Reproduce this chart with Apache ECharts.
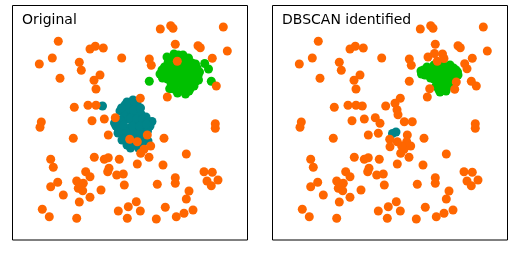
<!DOCTYPE html>
<html><head><meta charset="utf-8">
<script src="https://cdn.jsdelivr.net/npm/echarts@6/dist/echarts.min.js"></script>
<style>html,body{margin:0;padding:0;background:#fff}#c{width:521px;height:255px}</style>
</head><body><div id="c"></div>
<script>
// Panel titles
const titles = ['Original', 'DBSCAN identified'];

// Points labelled as noise / background (orange in both panels)
const noisePts = [
[45.8,198.7],[77.5,191],[82.8,193.7],[90.8,192],[39.8,182],[26.8,176],[109.2,182],[66.8,177.7],[68.8,169.7],[87.5,165],
[81.5,159.7],[47.5,161.7],[83.5,151],[61.8,132.7],[75.5,134.7],[83.5,134.7],[28.8,118],[27.5,112.7],[79.5,119.3],[91.8,121],
[102.8,122.3],[147.8,211],[158.2,214.3],[160.5,211.7],[210.8,213],[162.8,195.7],[185.5,194.3],[187.8,192.3],[214.8,189],[136.8,181],
[138.8,174.7],[164.8,178.7],[199.8,181.7],[203.8,154],[127.8,141.7],[154.8,143],[202.8,116.3],[60.8,101.7],[95.8,105],[38.2,80.7],
[40.8,72.7],[81.8,82.7],[91.8,80.7],[95.8,82.3],[106.8,80.7],[96.5,71.7],[95.2,68.3],[73.2,68.3],[77.5,63.3],[104.2,65],
[110.8,66],[45.2,57.7],[38.2,53.3],[64.2,59],[70.8,56.7],[65.8,51.7],[70.2,49.3],[111.8,55],[88.5,50],[50.8,45],
[77.5,42.7],[66.8,38],[29.8,30.7],[36.8,23.3],[64.2,21.7],[105.8,29],[115.8,33.3],[114.8,21.7],[202.8,111.7],[134.8,105],
[151.5,101.7],[117.2,100.7],[124.8,98.3],[138.2,94],[131.5,90.7],[128.2,86.7],[136.5,82.7],[173.8,86],[124.8,76],[150.5,75],
[191.5,68.3],[199.8,67.7],[194.5,59],[198.8,54.3],[205.5,60],[162.8,62.3],[162.8,56.7],[144.8,55.7],[176.5,49],[173.8,41],
[123.8,38.3],[127.8,29],[152.8,32.7],[180.5,30],[171.5,26.7],[163.8,23.3],[143.8,21]
];

// Original cluster A (green) and cluster B (teal)
const origA = [
[136.8,158.7],[192.2,176.5],[196,171],[198.8,158.7],[154.5,183],[161.5,186],[170.5,185],[171.5,181.5],[155.5,177],[163.5,179],
[172.5,179],[179.5,177],[184.5,172],[149.5,170],[157.5,171],[165.5,171],[173.5,171],[181.5,169],[185.5,164],[147.5,166],
[151.5,164],[159.5,164],[167.5,164],[175.5,163],[183.5,159],[158.5,157],[166.5,157],[174.5,156],[181.5,154],[161.5,151],
[169.5,150],[176.5,149],[157.2,151.3],
[158,180],[167,182],[176,175],[152,173],[161,174],[169,174],[178,173],[155,168],[163,167],[171,167],[179,166],[187,168],
[155,161],[163,160],[171,160],[179,160],[162,154],[170,153],[178,152],[165,147],[173,146],[150,162],[186,160],[183,176],
[166,185],[176,182]
];
const origB = [
[90,134],[114.5,138],[120.5,140],[124.5,136],[112.5,135],[118.5,133],[125.5,130],[107.5,129],[115.5,128],[121.5,125],
[128.5,126],[133.5,123],[139.5,118.5],[131.5,118.5],[107.5,117],[113.5,121],[119.5,119],[125.5,117],[103.5,114],[110.5,112],
[117.5,112],[123.5,110],[130.5,112],[137.5,114],[105.5,107],[112.5,105],[118.5,104],[126.5,104],[132.5,107],[109.5,100],
[115.5,97],[122.5,96],[129.5,96],[135.5,99],[114.5,95],
[116,136],[122,138],[109,132],[121,130],[128,132],[112,124],[118,122],[124,121],[130,121],[135,119],[108,120],[106,110],
[114,108],[121,107],[128,108],[135,109],[111,115],[120,114],[127,114],[134,116],[112,101],[119,100],[126,100],[132,101],
[118,92],[126,92],[102,117]
];

// DBSCAN result: cluster A (green), cluster B (teal), extra points marked noise
const dbA = [
[148.5,169],[154.5,173],[161.5,175],[169.5,176],[177.5,175],[183.5,170],[185.5,165],[152.5,165],[155.5,167],[163.5,169],
[171.5,170],[178.5,167],[161.5,161],[169.5,163],[176.5,161],[163.5,154],[170.5,156],[176.5,154],[167.5,148],[173.5,149],
[151,170],[158,171],[166,172],[174,173],[181,172],[158,162],[166,160],[173,158],[180,163],[166,151],[171,152],[159,165],
[149,166],[185,168],[167,166],[174,165]
];
const dbB = [[120,106.5],[123.5,108]];
const dbNoise = [
[155.5,183],[162,186.5],[170,186],[171.5,181.5],[136.8,158.7],[192.2,176.3],[194.5,171.3],[198.8,158.7],[183.8,158],[182.2,150.7],
[157.2,151.3],
[89.8,134],[122.5,136.7],[113.2,134],[124.5,130.3],[125.5,125.3],[107.5,116.7],[131.8,118.3],[139.8,118.3],[105.8,106.7],
[134.2,98.3],[129.2,94],[117.5,93.3]
];

const ORANGE = '#ff6600', GREEN = '#00c000', TEAL = '#008489';
const chart = echarts.init(document.getElementById('c'), null, {renderer: 'canvas'});
const gridBase = {top: 5.5, width: 235, height: 234.5, show: true, borderColor: '#000', borderWidth: 1, backgroundColor: 'transparent'};
const axX = i => ({type: 'value', gridIndex: i, min: 0, max: 235, show: false});
const axY = i => ({type: 'value', gridIndex: i, min: 0, max: 234.5, show: false});
const sc = (i, data, color) => ({type: 'scatter', xAxisIndex: i, yAxisIndex: i, data: data, symbolSize: 9,
  itemStyle: {color: color, opacity: 1}, silent: true});
const tStyle = {fontFamily: 'DejaVu Sans', fontSize: 14, fontWeight: 'normal', color: '#000'};
chart.setOption({
  animation: false,
  title: [
    {text: titles[0], left: 22, top: 13, padding: 0, textStyle: tStyle},
    {text: titles[1], left: 282, top: 13, padding: 0, textStyle: tStyle}
  ],
  grid: [Object.assign({left: 12.5}, gridBase), Object.assign({left: 272.5}, gridBase)],
  xAxis: [axX(0), axX(1)],
  yAxis: [axY(0), axY(1)],
  series: [
    sc(0, origA, GREEN), sc(0, origB, TEAL), sc(0, noisePts, ORANGE),
    sc(1, dbA, GREEN), sc(1, dbB, TEAL), sc(1, noisePts, ORANGE), sc(1, dbNoise, ORANGE)
  ]
});
</script></body></html>
